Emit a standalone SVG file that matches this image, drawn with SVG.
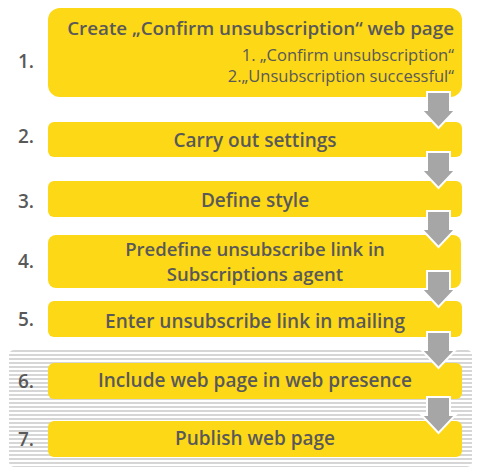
<svg xmlns="http://www.w3.org/2000/svg" width="478" height="474" viewBox="0 0 478 474">
<style>
.box{fill:#FDD816}
.t{font-family:"Open Sans","Liberation Sans",sans-serif;font-weight:600;font-size:19px;fill:#595959;text-anchor:middle}
.s{font-family:"Open Sans","Liberation Sans",sans-serif;font-weight:400;font-size:16.5px;fill:#595959;text-anchor:end}
.n{font-family:"Open Sans","Liberation Sans",sans-serif;font-weight:600;font-size:19px;fill:#595959}
.arr{fill:#A6A6A6;stroke:#FFFFFF;stroke-width:2}
</style>
<defs>
<pattern id="stripes" x="0" y="350" width="8" height="4" patternUnits="userSpaceOnUse">
<rect x="0" y="0" width="8" height="2" fill="#D6D6D6"/>
</pattern>
</defs>
<rect width="478" height="474" fill="#FFFFFF"/>
<rect id="group-bg" x="9" y="350" width="463" height="117" rx="5" fill="url(#stripes)"/>
<g id="step1">
<rect class="box" x="48" y="8" width="414" height="89" rx="12"/>
<text class="n" x="18" y="68">1.</text>
<text class="t" x="454" y="35" style="text-anchor:end;font-size:18.8px">Create „Confirm unsubscription“ web page</text>
<text class="s" x="454" y="61">1. „Confirm unsubscription“</text>
<text class="s" x="454" y="82">2.„Unsubscription successful“</text>
</g>
<g id="step2">
<rect class="box" x="48" y="122" width="414" height="35" rx="6"/>
<text class="n" x="18" y="143">2.</text>
<text class="t" x="255" y="146.5">Carry out settings</text>
</g>
<g id="step3">
<rect class="box" x="48" y="181" width="414" height="36" rx="6"/>
<text class="n" x="18" y="208">3.</text>
<text class="t" x="255" y="206.5">Define style</text>
</g>
<g id="step4">
<rect class="box" x="48" y="235" width="413" height="53" rx="8"/>
<text class="n" x="18" y="268">4.</text>
<text class="t" x="255" y="255.5" style="font-size:18.5px">Predefine unsubscribe link in</text>
<text class="t" x="255" y="281" style="font-size:18.5px">Subscriptions agent</text>
</g>
<g id="step5">
<rect class="box" x="48" y="301" width="414" height="36" rx="6"/>
<text class="n" x="18" y="326">5.</text>
<text class="t" x="255" y="328">Enter unsubscribe link in mailing</text>
</g>
<g id="step6">
<rect class="box" x="48" y="363" width="414" height="36" rx="6"/>
<text class="n" x="18" y="388">6.</text>
<text class="t" x="255" y="386.5">Include web page in web presence</text>
</g>
<g id="step7">
<rect class="box" x="48" y="421" width="414" height="36" rx="6"/>
<text class="n" x="18" y="446">7.</text>
<text class="t" x="255" y="445">Publish web page</text>
</g>
<g id="connectors">
<path class="arr" d="M427,92 H450 V110 H455.5 L438.5,128 L421.5,110 H427 Z"/>
<path class="arr" d="M427,152 H450 V170 H455.5 L438.5,188 L421.5,170 H427 Z"/>
<path class="arr" d="M427,211 H450 V229 H455.5 L438.5,247 L421.5,229 H427 Z"/>
<path class="arr" d="M427,271 H450 V289 H455.5 L438.5,307 L421.5,289 H427 Z"/>
<path class="arr" d="M427,332 H450 V350 H455.5 L438.5,368 L421.5,350 H427 Z"/>
<path class="arr" d="M427,397 H450 V415 H455.5 L438.5,433 L421.5,415 H427 Z"/>
</g>
</svg>
